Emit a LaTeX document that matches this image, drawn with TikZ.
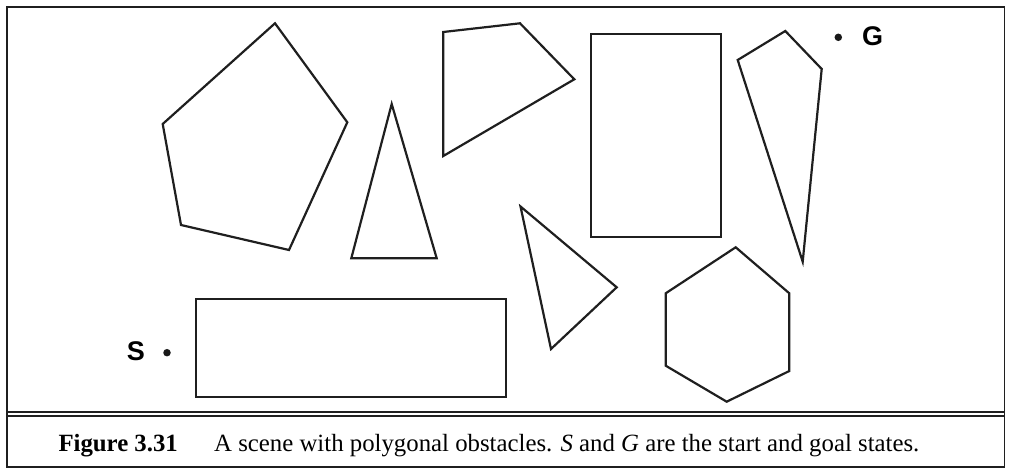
\documentclass[tikz,border=0pt]{standalone}
\usepackage{fontspec}
\setmainfont{Liberation Serif}
\newfontfamily\labelfont{Liberation Sans}
\begin{document}
\begin{tikzpicture}[x=1pt,y=-1pt,
  obst/.style={draw=black!88, line width=2.2pt, line join=miter},
  frame/.style={draw=black!88, line width=1.8pt},
  statedot/.style={circle, fill=black!90, inner sep=0pt, minimum size=7.5pt},
  statelbl/.style={font=\labelfont\bfseries\fontsize{27}{30}\selectfont, inner sep=0pt},
  captxt/.style={font=\fontsize{24.8}{28}\selectfont, inner sep=0pt, anchor=base west}]
\useasboundingbox (0,0) rectangle (1012,473);
% frame
\draw[frame] (7,6.7) rectangle (1004.5,467);
\draw[frame, line width=1.6pt] (7,411.7) -- (1004.5,411.7);
\draw[frame, line width=1.6pt] (7,415.8) -- (1004.5,415.8);
% obstacles
\draw[obst] (275,23.3) -- (347.3,122.3) -- (289,250) -- (181,225) -- (162.7,124) -- cycle;
\draw[obst] (391.7,104) -- (436.7,258.3) -- (351.3,258.3) -- cycle;
\draw[obst] (443.3,32) -- (520,23.3) -- (574.3,79.3) -- (443.3,156) -- cycle;
\draw[obst] (591,34) rectangle (721,237.3);
\draw[obst] (737.7,60) -- (785.3,31) -- (821.7,69) -- (802.7,261.7) -- cycle;
\draw[obst] (520.5,206.5) -- (616.7,287.3) -- (551,349) -- cycle;
\draw[obst] (735.7,247.3) -- (789.3,293.3) -- (789.3,371) -- (726.7,401.7) -- (665.7,365.7) -- (665.7,293.3) -- cycle;
\draw[obst] (195.7,299) rectangle (505.7,396.7);
% states
\node[statedot] (sdot) at (167,352.7) {};
\node[statelbl] (slbl) at (136,351.7) {S};
\node[statedot] (gdot) at (838.3,37.3) {};
\node[statelbl] (glbl) at (872.7,36.7) {G};
% caption
\node[captxt] (fig) at (58.3,451.7) {\textbf{Figure 3.31}};
\node[captxt] (cap) at (214,451.7) {A scene with polygonal obstacles. \textit{S} and \textit{G} are the start and goal states.};
\end{tikzpicture}
\end{document}
